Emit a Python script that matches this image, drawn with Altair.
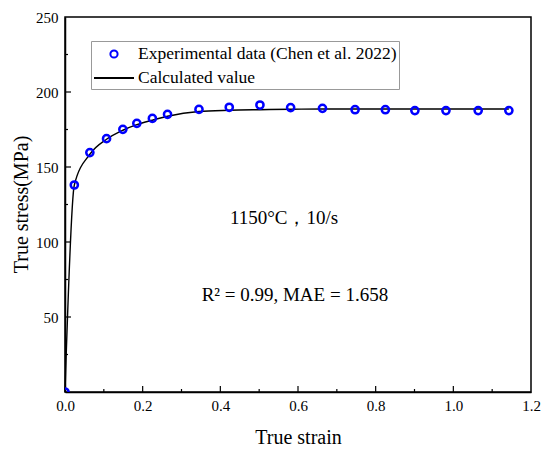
import altair as alt
import pandas as pd

# ---- data ----
exp_strain = [0.0, 0.024, 0.064, 0.107, 0.149, 0.185, 0.225, 0.264, 0.345, 0.423,
              0.502, 0.581, 0.663, 0.747, 0.825, 0.901, 0.981, 1.064, 1.143]
exp_stress = [0.0, 138.0, 159.6, 168.9, 175.1, 179.1, 182.4, 185.1, 188.4, 189.8,
              191.3, 189.6, 189.1, 188.2, 188.2, 187.6, 187.6, 187.6, 187.6]

calc_strain = [0.0, 0.024, 0.064, 0.107, 0.149, 0.185, 0.225, 0.264, 0.345, 0.423,
               0.502, 0.581, 0.663, 0.747, 0.825, 0.901, 0.981, 1.064, 1.143]
calc_stress = [0.0, 138.0, 158.5, 168.5, 174.5, 178.2, 181.2, 183.8, 187.0, 187.8,
               188.2, 188.5, 188.7, 188.7, 188.7, 188.7, 188.7, 188.7, 188.7]

series_names = ["Experimental data (Chen et al. 2022)", "Calculated value"]

x_major_ticks = [0.2, 0.4, 0.6, 0.8, 1.0]
x_minor_ticks = [0.1, 0.3, 0.5, 0.7, 0.9, 1.1]
y_major_ticks = [50, 100, 150, 200]
y_minor_ticks = [25, 75, 125, 175, 225]
x_labels = [0.0, 0.2, 0.4, 0.6, 0.8, 1.0, 1.2]
y_labels = [50, 100, 150, 200, 250]

notes = ["1150°C，10/s", "R² = 0.99, MAE = 1.658"]
note_x = [0.564, 0.592]
note_y = [116, 64.7]

# ---- tables ----
exp_df = pd.DataFrame({"strain": exp_strain, "stress": exp_stress, "series": series_names[0]})
calc_df = pd.DataFrame({"strain": calc_strain, "stress": calc_stress, "series": series_names[1]})
note_df = pd.DataFrame({"x": note_x, "y": note_y, "t": notes})

FONT = "Liberation Serif"
W, H = 466, 375

xs = alt.Scale(domain=[0, 1.2], nice=False, zero=False)
ys = alt.Scale(domain=[0, 250], nice=False, zero=False)

x_axis = alt.Axis(values=x_labels, format=".1f", labelPadding=6,
                  title="True strain", titleX=233, titleY=51)
y_axis = alt.Axis(values=y_labels, labelPadding=7,
                  title="True stress(MPa)", titleX=-38, titleY=187, titleAngle=270)

circle_path = "M-0.36,0A0.36,0.36 0 1,0 0.36,0A0.36,0.36 0 1,0 -0.36,0Z"
line_path = "M-2,0L2,0"

color_scale = alt.Scale(domain=series_names, range=["#0000ff", "#000000"])
shape_scale = alt.Scale(domain=series_names, range=[circle_path, line_path])

legend = alt.Legend(title=None, orient="none", legendX=26, legendY=24)

line = alt.Chart(calc_df).mark_line(strokeWidth=1.4, interpolate="monotone").encode(
    x=alt.X("strain:Q", scale=xs, axis=x_axis),
    y=alt.Y("stress:Q", scale=ys, axis=y_axis),
    color=alt.Color("series:N", scale=color_scale, legend=legend),
)

points = alt.Chart(exp_df).mark_point(filled=False, size=400, strokeWidth=2.5, clip=True, opacity=1).encode(
    x=alt.X("strain:Q", scale=xs, axis=x_axis),
    y=alt.Y("stress:Q", scale=ys, axis=y_axis),
    color=alt.Color("series:N", scale=color_scale, legend=legend),
    shape=alt.Shape("series:N", scale=shape_scale, legend=legend),
)

def xticks(vals, L):
    return alt.Chart(pd.DataFrame({"v": vals})).mark_rule(color="black", strokeWidth=1.2).encode(
        x=alt.X("v:Q", scale=xs, axis=x_axis), y=alt.value(H), y2=alt.value(H - L))

def yticks(vals, L):
    return alt.Chart(pd.DataFrame({"v": vals})).mark_rule(color="black", strokeWidth=1.2).encode(
        y=alt.Y("v:Q", scale=ys, axis=y_axis), x=alt.value(0), x2=alt.value(L))

text = alt.Chart(note_df).mark_text(fontSize=19, color="black").encode(
    x=alt.X("x:Q", scale=xs, axis=x_axis), y=alt.Y("y:Q", scale=ys, axis=y_axis), text="t:N")

chart = alt.layer(
    line, points, text,
    xticks(x_major_ticks, 6), xticks(x_minor_ticks, 3),
    yticks(y_major_ticks, 6), yticks(y_minor_ticks, 3),
).resolve_scale(color="shared", shape="shared").properties(
    width=W, height=H,
    autosize=alt.AutoSizeParams(type="none"),
    padding={"left": 57, "top": 9, "right": 10, "bottom": 60},
    background="white",
).configure(
    font=FONT,
).configure_view(
    stroke="black", strokeWidth=1.5,
).configure_axis(
    labelFont=FONT, labelFontSize=15, labelColor="black", labelFlush=False,
    titleFont=FONT, titleFontSize=20, titleFontWeight="normal", titleColor="black",
    titleBaseline="alphabetic",
    ticks=False, grid=False, domainColor="black", domainWidth=1.5,
).configure_legend(
    labelFont=FONT, labelFontSize=17.5, labelColor="black", labelLimit=500,
    symbolSize=400, symbolStrokeWidth=2, symbolOffset=10, labelOffset=13,
    rowPadding=4, padding=2, fillColor="white", strokeColor="#999999",
).configure_text(font=FONT)

chart.save("out.html", embed_options={"renderer": "svg", "actions": False})
